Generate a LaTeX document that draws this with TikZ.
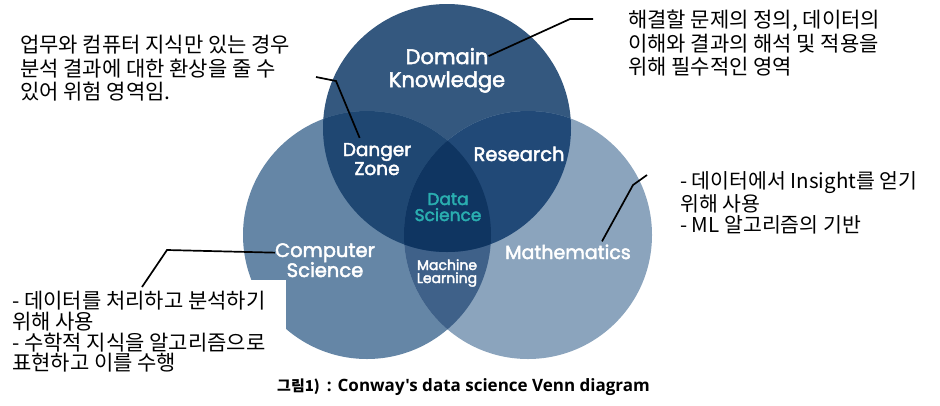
\documentclass[tikz,border=0pt]{standalone}
\usepackage{fontspec}
\setmainfont{Noto Sans CJK KR}
\newfontfamily\korfont{Noto Sans CJK KR}
\newfontfamily\vennfont{Poppins}[FakeBold=2.4]
\newfontfamily\capfont{Open Sans}
\usetikzlibrary{calc}
\definecolor{domcol}{HTML}{34587F}
\definecolor{cscol}{HTML}{6586A6}
\definecolor{mathcol}{HTML}{8BA4BD}
\definecolor{dzcol}{HTML}{1F4772}
\definecolor{rscol}{HTML}{214977}
\definecolor{mlcol}{HTML}{3F6189}
\definecolor{dscol}{HTML}{0F3561}
\definecolor{dsteal}{HTML}{2AAEB0}
\tikzset{
  venn/.style={font=\vennfont\fontsize{19.5}{19.5}\selectfont, text=white, anchor=base, inner sep=0pt},
  note/.style={font=\fontsize{21}{23.5}\selectfont, align=left, anchor=north west, inner sep=0pt},
  leader/.style={line width=1.7pt, black}
}

\begin{document}
\begin{tikzpicture}[x=1pt, y=-1pt]
    \fill[white] (0,0) rectangle (940,405);
    \useasboundingbox (0,0) rectangle (940,405);

    \coordinate (dom) at (447,128);
    \coordinate (cs) at (367,235);
    \coordinate (ma) at (528,235);

    \fill[domcol] (dom) circle[radius=124pt];
    \fill[cscol] (cs) circle[radius=124pt];
    \fill[mathcol] (ma) circle[radius=124pt];
    \begin{scope}
        \clip (cs) circle[radius=124pt];
        \fill[dzcol] (dom) circle[radius=124pt];
        \fill[mlcol] (ma) circle[radius=124pt];
    \end{scope}
    \begin{scope}
        \clip (ma) circle[radius=124pt];
        \fill[rscol] (dom) circle[radius=124pt];
        \clip (cs) circle[radius=124pt];
        \fill[dscol] (dom) circle[radius=124pt];
    \end{scope}
    \fill[white] (238,280) rectangle (286,365);

    \node[venn, font=\vennfont\fontsize{21}{21}\selectfont] (domain) at (447,64) {Domain};
    \node[venn, font=\vennfont\fontsize{21}{21}\selectfont] (knowledge) at (447,87) {Knowledge};
    \node[venn, font=\vennfont\fontsize{18.5}{18.5}\selectfont] (danger) at (377,156) {Danger};
    \node[venn, font=\vennfont\fontsize{18.5}{18.5}\selectfont] (zone) at (377,175) {Zone};
    \node[venn] (research) at (519,161) {Research};
    \node[venn, text=dsteal, font=\vennfont\fontsize{17}{17}\selectfont] (data) at (448,205) {Data};
    \node[venn, text=dsteal, font=\vennfont\fontsize{17}{17}\selectfont] (dsci) at (448,221) {Science};
    \node[venn] (computer) at (325,257) {Computer};
    \node[venn] (cssci) at (325,277) {Science};
    \node[venn, font=\vennfont\fontsize{14}{14}\selectfont] (machine) at (447,270) {Machine};
    \node[venn, font=\vennfont\fontsize{14}{14}\selectfont] (learning) at (447,283) {Learning};
    \node[venn, font=\vennfont\fontsize{19}{19}\selectfont] (math) at (568,259) {Mathematics};

    \node[note] (dznote) at (20,35) {업무와 컴퓨터 지식만 있는 경우\\분석 결과에 대한 환상을 줄 수\\있어 위험 영역임.};
    \node[note] (dknote) at (628,10) {해결할 문제의 정의, 데이터의\\이해와 결과의 해석 및 적용을\\위해 필수적인 영역};
    \node[note, font=\fontsize{20.5}{21.3}\selectfont] (mathnote) at (680,171) {- 데이터에서 Insight를 얻기\\위해 사용\\- ML 알고리즘의 기반};
    \node[note, font=\fontsize{21}{20.8}\selectfont] (csnote) at (12,291) {- 데이터를 처리하고 분석하기\\위해 사용\\- 수학적 지식을 알고리즘으로\\표현하고 이를 수행};

    \coordinate (dzend) at (316,77);
    \coordinate (dzbend) at (336,81);
    \coordinate (dkbend) at (570,19);
    \coordinate (dkend) at (593,19);
    \coordinate (mathbend) at (633,185);
    \coordinate (mathend) at (647,175);
    \coordinate (csbend) at (167,250);
    \coordinate (csend) at (142,287);

    \draw[leader] (dzend) -- (dzbend) -- ([xshift=17pt, yshift=5pt]danger.north west);
    \draw[leader] (domain.east) -- (dkbend) -- (dkend);
    \draw[leader] ([xshift=34pt, yshift=3pt]math.north) -- (mathbend) -- (mathend);
    \draw[leader] (computer.west) -- (csbend) -- (csend);

    \node[font=\capfont\bfseries\fontsize{17}{17}\selectfont, anchor=base west, inner sep=0pt] (caption) at (277,391)
        {{\korfont\bfseries\fontsize{15}{15}\selectfont 그림1)}\hspace{7pt}: Conway's data science Venn diagram};
\end{tikzpicture}
\end{document}
